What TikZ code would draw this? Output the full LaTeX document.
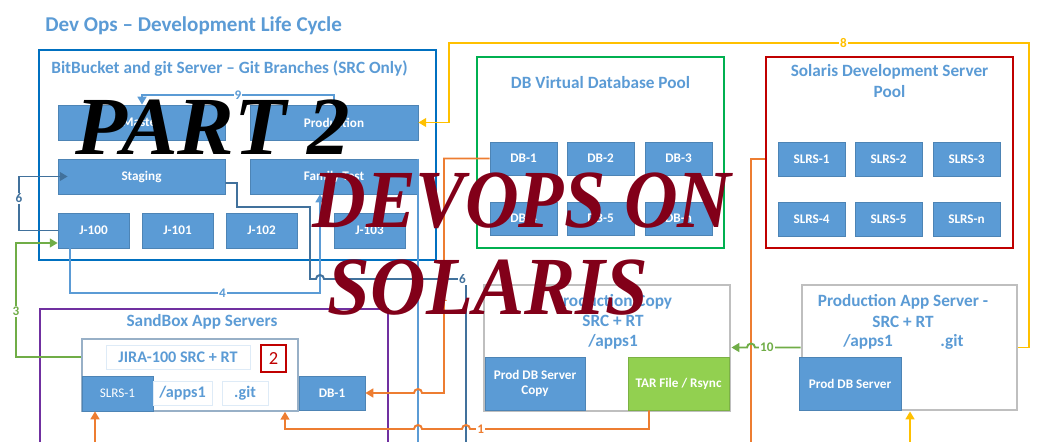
\documentclass[tikz,border=0pt]{standalone}
\usepackage{fontspec}
\setmainfont{Carlito}
\newfontfamily\bannerfont{Liberation Serif}
\usetikzlibrary{arrows.meta,shadows}

\definecolor{lblue}{HTML}{5B9BD5}
\definecolor{dblue}{HTML}{41719C}
\definecolor{bbblue}{HTML}{0070C0}
\definecolor{poolgreen}{HTML}{00B050}
\definecolor{poolred}{HTML}{C00000}
\definecolor{sbpurple}{HTML}{7030A0}
\definecolor{orng}{HTML}{ED7D31}
\definecolor{yel}{HTML}{FFC000}
\definecolor{lgreen}{HTML}{70AD47}
\definecolor{targreen}{HTML}{92D050}
\definecolor{bannerred}{RGB}{130,0,25}

\tikzset{
  blk/.style={fill=lblue, draw=lblue!85!black, line width=0.4pt, text=white,
    font=\bfseries\fontsize{7.5}{9}\selectfont, inner sep=0pt, align=center,
    drop shadow={shadow xshift=0.8pt, shadow yshift=-0.8pt, opacity=0.3, fill=black}},
  pool/.style={draw=#1, line width=1.6pt, inner sep=0pt},
  gbox/.style={draw=black!25, line width=1.6pt, fill=white, inner sep=0pt,
    drop shadow={shadow xshift=0.8pt, shadow yshift=-0.8pt, opacity=0.2, fill=black}},
  tbox/.style={draw=lblue!20, line width=0.5pt, fill=white, text=lblue, inner sep=0pt,
    font=\bfseries\fontsize{9.2}{10}\selectfont},
  ttl/.style={text=lblue, inner sep=0pt, font=\bfseries\fontsize{9.8}{11.5}\selectfont, align=center},
  conn/.style={draw=#1, line width=1.1pt},
  arr/.style={-{Triangle[length=4.5pt,width=5pt]}},
  lab/.style={fill=white, inner sep=0.6pt, font=\bfseries\fontsize{7.5}{7.5}\selectfont},
  banner/.style={inner sep=0pt, font=\bannerfont\bfseries\itshape\fontsize{47}{47}\selectfont}
}

\begin{document}
\begin{tikzpicture}[x=0.02cm,y=-0.02cm]
\useasboundingbox (0,0) rectangle (1053,442);
\clip (0,0) rectangle (1053,442);

\node[anchor=west, text=lblue, inner sep=0pt, font=\bfseries\fontsize{12}{14}\selectfont] (title) at (45,26)
  {Dev Ops – Development Life Cycle};

% git server
\node[pool=bbblue, minimum width=7.94cm, minimum height=4.2cm] (bb) at (237.5,155) {};
\node[ttl, anchor=west] at (51,69) {BitBucket and git Server – Git Branches (SRC Only)};
\node[blk, minimum width=3.34cm, minimum height=0.7cm] (master) at (141.5,122.5) {Master};
\node[blk, minimum width=3.36cm, minimum height=0.7cm] (prod) at (334,122.5) {Production};
\node[blk, minimum width=3.34cm, minimum height=0.7cm] (staging) at (141.5,176.5) {Staging};
\node[blk, minimum width=3.36cm, minimum height=0.7cm] (family) at (334,176.5) {Family Test};
\node[blk, minimum width=1.42cm, minimum height=0.7cm] (j100) at (93.5,230.5) {J-100};
\node[blk, minimum width=1.42cm, minimum height=0.7cm] (j101) at (177.5,230.5) {J-101};
\node[blk, minimum width=1.42cm, minimum height=0.7cm] (j102) at (261.5,230.5) {J-102};
\node[blk, minimum width=1.42cm, minimum height=0.7cm] (j103) at (369.5,230.5) {J-103};

% database pool
\node[pool=poolgreen, minimum width=4.94cm, minimum height=3.82cm] (dbpool) at (600.5,152.5) {};
\node[ttl] at (600.5,83) {DB Virtual Database Pool};
\node[blk, minimum width=1.34cm, minimum height=0.66cm] (db1) at (523.5,158.5) {DB-1};
\node[blk, minimum width=1.34cm, minimum height=0.66cm] (db2) at (600.5,158.5) {DB-2};
\node[blk, minimum width=1.34cm, minimum height=0.66cm] (db3) at (678.5,158.5) {DB-3};
\node[blk, minimum width=1.34cm, minimum height=0.66cm] (db4) at (523.5,218.5) {DB-4};
\node[blk, minimum width=1.34cm, minimum height=0.66cm] (db5) at (600.5,218.5) {DB-5};
\node[blk, minimum width=1.34cm, minimum height=0.66cm] (db6) at (678.5,218.5) {DB-n};

% solaris pool
\node[pool=poolred, minimum width=4.94cm, minimum height=3.82cm] (redpool) at (889.5,152.5) {};
\node[ttl] at (889.5,81) {Solaris Development Server\\Pool};
\node[blk, minimum width=1.34cm, minimum height=0.68cm] (slrs1) at (811.5,159) {SLRS-1};
\node[blk, minimum width=1.34cm, minimum height=0.68cm] (slrs2) at (888.5,159) {SLRS-2};
\node[blk, minimum width=1.34cm, minimum height=0.68cm] (slrs3) at (966.5,159) {SLRS-3};
\node[blk, minimum width=1.34cm, minimum height=0.68cm] (slrs4) at (811.5,219) {SLRS-4};
\node[blk, minimum width=1.34cm, minimum height=0.68cm] (slrs5) at (888.5,219) {SLRS-5};
\node[blk, minimum width=1.34cm, minimum height=0.68cm] (slrsn) at (966.5,219) {SLRS-n};

% sandbox
\node[pool=sbpurple, minimum width=6.96cm, minimum height=3.04cm] (sandbox) at (214,385) {};
\node[ttl] at (202,322) {SandBox App Servers};
\node[draw=lblue!55!gray!70, line width=0.9pt, fill=white, minimum width=4.32cm, minimum height=1.44cm,
  drop shadow={shadow xshift=0.6pt, shadow yshift=-0.6pt, opacity=0.2, fill=black}] (inner) at (190,375) {};
\node[tbox, minimum width=2.88cm, minimum height=0.48cm] (jira) at (178,357) {JIRA-100 SRC + RT};
\node[draw=poolred, line width=0.9pt, text=poolred, minimum width=0.5cm, minimum height=0.54cm,
  inner sep=0pt, font=\fontsize{10.5}{10.5}\selectfont] (two) at (273.5,358.5) {2};
\node[blk, font=\fontsize{7.5}{9}\selectfont, minimum width=1.42cm, minimum height=0.7cm] (sslrs1) at (117.5,393.5) {SLRS-1};
\node[tbox, minimum width=1.18cm, minimum height=0.48cm] (sapps) at (182.5,393) {/apps1};
\node[tbox, minimum width=0.92cm, minimum height=0.48cm] (sgit) at (245,393) {.git};
\node[blk, minimum width=1.32cm, minimum height=0.68cm] (sdb1) at (332,393) {DB-1};

% production copy
\node[gbox, minimum width=4.92cm, minimum height=2.52cm] (pcopy) at (607,348) {};
\node[ttl] at (613,322) {Production Copy\\SRC + RT\\/apps1};
\node[blk, minimum width=2cm, minimum height=1.06cm] (pdbcopy) at (535,383.5) {Prod DB Server\\Copy};
\node[blk, fill=targreen, draw=targreen!85!black, minimum width=2.02cm, minimum height=1.06cm] (tar) at (678.5,383.5) {TAR File / Rsync};

% production app server
\node[gbox, minimum width=4.3cm, minimum height=2.5cm] (pas) at (909.5,347.5) {};
\node[ttl] at (903,311) {Production App Server -\\SRC + RT};
\node[ttl] at (868,342) {/apps1};
\node[ttl] at (952,342) {.git};
\node[blk, minimum width=2.04cm, minimum height=1.06cm] (pdb) at (850,383.5) {Prod DB Server};

% connectors
\draw[conn=lblue, arr] (prod.north) -- (334,95) -- node[lab, text=lblue]{9} (142,95) -- (142,0 |- master.north);
\draw[conn=dblue, arr] (j100.west) -- (19,230.5) -- node[lab, pos=0.6, text=dblue]{6} (19,176.5)
  -- ([xshift=0.2cm]staging.west);
\draw[conn=lgreen, arr] (inner.west |- jira.west) -- (16,357) -- node[lab, pos=0.4, text=lgreen]{3} (16,243)
  -- (j100.west |- 0,243);
\draw[conn=lblue, arr] (70,0 |- j100.south) -- (70,293) -- node[lab, pos=0.61, text=lblue]{4} (320,293)
  -- (320,0 |- family.south);
\draw[conn=lblue] (family.north east) -- (family.north east |- 0,460);
\draw[conn=dblue] (staging.east |- 0,183) -- (237,183) -- (237,207) -- (310,207) -- (310,279)
  -- (316,279) arc[start angle=180, end angle=0, radius=0.08cm]
  -- (414,279) arc[start angle=180, end angle=0, radius=0.08cm]
  -- (440,279) arc[start angle=180, end angle=0, radius=0.08cm]
  -- node[lab, pos=0.8, text=dblue]{6} (466,279) -- (466,460);
\draw[conn=orng, arr] (db1.west) -- (444,158.5) -- node[lab, pos=0.59, text=orng]{1} (444,393)
  -- (422,393) arc[start angle=0, end angle=180, radius=0.08cm] -- (sdb1.east);
\draw[conn=orng, arr] (649,0 |- tar.south) -- (649,429) -- node[lab, pos=0.94, text=orng]{1} (470,429)
  arc[start angle=0, end angle=180, radius=0.08cm]
  -- (422,429) arc[start angle=0, end angle=180, radius=0.08cm]
  -- (285,429) -- (285,0 |- inner.south);
\draw[conn=orng] (redpool.west |- slrs1.west) -- (751,159) -- (751,460);
\draw[conn=orng, arr] (95,460) -- (95,0 |- sslrs1.south);
\draw[conn=yel, arr] (pas.east) -- (1029,347.5) -- (1029,43) -- node[lab, pos=0.32, text=yel]{8} (449,43)
  -- (449,122.5) -- (prod.east);
\draw[conn=yel, arr] (910,460) -- (910,0 |- pas.south);
\draw[conn=lgreen, arr] (pas.west) -- node[lab, pos=0.74, text=lgreen]{10} (755,347.5)
  arc[start angle=0, end angle=180, radius=0.08cm] -- (pcopy.east |- pas.west);

% banner
\node[banner, text=black] (part) at (213,127) {\scalebox{1.03}[1]{PART 2}};
\node[banner, text=bannerred] (devops) at (522,201) {\scalebox{0.9}[1]{DEVOPS ON}};
\node[banner, text=bannerred] (solaris) at (488,288) {\scalebox{0.93}[1]{SOLARIS}};
\end{tikzpicture}
\end{document}
